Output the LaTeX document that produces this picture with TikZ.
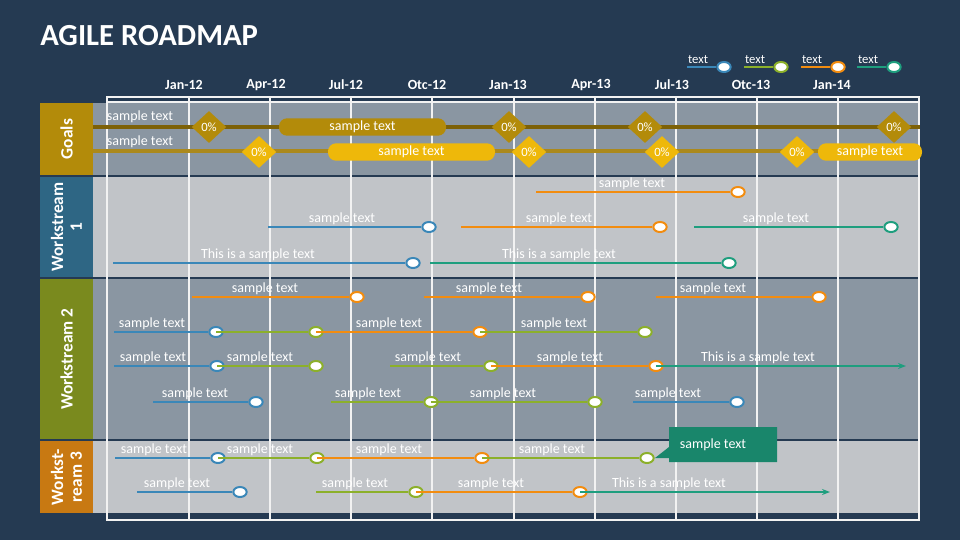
\documentclass[tikz,border=0pt]{standalone}
\usepackage{fontspec}
\setmainfont{Carlito}
\usetikzlibrary{arrows.meta,positioning,shapes.geometric}
\definecolor{bg}{HTML}{253A52}
\definecolor{darkband}{HTML}{8A96A2}
\definecolor{lightband}{HTML}{C1C4C8}
\definecolor{cgoal}{HTML}{B38B0A}
\definecolor{cgoalb}{HTML}{EEB80A}
\definecolor{cws1}{HTML}{2E6684}
\definecolor{cws2}{HTML}{7A8A1E}
\definecolor{cws3}{HTML}{C87912}
\definecolor{cblue}{HTML}{3A87B8}
\definecolor{cgreen}{HTML}{8CB02A}
\definecolor{corange}{HTML}{F28C0F}
\definecolor{cteal}{HTML}{1E9E7E}
\tikzset{%
   dot/.style={ellipse, draw=#1, line width=1.5pt, fill=white, minimum width=10pt, minimum height=7.5pt, inner sep=0pt},
   lbl/.style={text=white, font=\fontsize{10.5}{12}\selectfont, inner sep=0pt},
   dia/.style={diamond, fill=#1, text=white, font=\fontsize{9.5}{10}\selectfont, inner sep=1pt, minimum width=26pt, minimum height=24pt},
   bar/.style={rounded corners=6pt, fill=#1, text=white, font=\fontsize{10.5}{12}\selectfont, minimum height=13pt, inner sep=0pt},
   lane/.style={fill=#1, text=white, font=\bfseries\fontsize{13}{14}\selectfont, align=center, rotate=90},
}
% segment: from x1 to x2 at y, colour, label, label x
\newcommand{\seg}[6]{%
  \coordinate (s) at (#1,#3);
  \node[dot=#4] (e) at (#2,#3) {};
  \draw[#4, line width=1.3pt] (s) -- (e);
  \node[lbl] at (#6,#3-8) {#5};
}
\newcommand{\arr}[6]{%
  \coordinate (s) at (#1,#3);
  \coordinate (e) at (#2,#3);
  \draw[#4, line width=1.3pt, -{Stealth[length=6pt]}] (s) -- (e);
  \node[lbl] at (#6,#3-8) {#5};
}
\begin{document}
\begin{tikzpicture}[x=0.75pt, y=-0.75pt]
   \fill[bg] (0,0) rectangle (960,540);
   \useasboundingbox (0,0) rectangle (960,540);
   \node[anchor=base west, text=white, font=\bfseries\fontsize{23}{26}\selectfont, inner sep=0pt] (title) at (40,45) {AGILE ROADMAP};
   % legend
   \foreach \x/\c in {687/cblue, 744/cgreen, 801/corange, 857/cteal} {
      \node[dot=\c] (l\x) at (\x+37,67) {};
      \draw[\c, line width=1.3pt] (\x,67) -- (l\x);
      \node[lbl, font=\fontsize{9.5}{10}\selectfont] at (\x+11,60) {text};
   }
   % months
   \foreach \x/\m in {184/Jan-12, 266/Apr-12, 346/Jul-12, 427/Otc-12, 508/Jan-13, 591/Apr-13, 672/Jul-13, 751/Otc-13, 832/Jan-14}
      \node[text=white, font=\bfseries\fontsize{10.5}{12}\selectfont] at (\x,85) {\m};
   % bands
   \fill[darkband] (93,103) rectangle (920,175);
   \fill[lightband] (93,177) rectangle (920,277);
   \fill[darkband] (93,279) rectangle (920,439);
   \fill[lightband] (93,441) rectangle (920,513);
   \node[lane=cgoal, minimum width=72pt*0.75/0.75*0.75, minimum height=53*0.75pt] (goals) at (66.5,139) {Goals};
   \node[lane=cws1, minimum width=100*0.75pt, minimum height=53*0.75pt] (ws1) at (66.5,227) {Workstream\\1};
   \node[lane=cws2, minimum width=160*0.75pt, minimum height=53*0.75pt] (ws2) at (66.5,359) {Workstream 2};
   \node[lane=cws3, minimum width=72*0.75pt, minimum height=53*0.75pt] (ws3) at (66.5,477) {Workst-\\ream 3};
   % grid
   \draw[white!90!gray, line width=0.8pt] (107,97) rectangle (919,520);
   \draw[white!90!gray, line width=0.8pt] (107,102) -- (919,102);
   \foreach \x in {189,270,351,432,514,595,676,757,838}
      \draw[white!90!gray, line width=0.8pt] (\x,97) -- (\x,520);
   % goals
   \draw[cgoal!70!black, line width=2.5pt] (93,127) -- (920,127);
   \draw[cgoal!85!gray, line width=2.5pt] (93,151) -- (920,151);
   \node[lbl] at (140,117) {sample text};
   \node[lbl] at (140,142) {sample text};
   \node[bar=cgoal, minimum width=167*0.75pt] (g1) at (362.5,127) {sample text};
   \node[bar=cgoalb, minimum width=167*0.75pt] (g2) at (411.5,152) {sample text};
   \node[bar=cgoalb, minimum width=104*0.75pt] (g3) at (870,152) {sample text};
   \foreach \x in {209,509,645,894} \node[dia=cgoal] at (\x,127) {0\%};
   \foreach \x in {259,529,662,797} \node[dia=cgoalb] at (\x,152) {0\%};
   % workstream 1
   \seg{536}{738}{192}{corange}{sample text}{632}
   \seg{268}{429}{227}{cblue}{sample text}{342}
   \seg{461}{660}{227}{corange}{sample text}{559}
   \seg{694}{891}{227}{cteal}{sample text}{776}
   \seg{113}{413}{263}{cblue}{This is a sample text}{258}
   \seg{430}{729}{263}{cteal}{This is a sample text}{559}
   % workstream 2
   \seg{192}{357}{297}{corange}{sample text}{265}
   \seg{424}{588}{297}{corange}{sample text}{489}
   \seg{656}{819}{297}{corange}{sample text}{713}
   \seg{114}{216}{332}{cblue}{sample text}{152}
   \seg{216}{316}{332}{cgreen}{}{260}
   \seg{316}{480}{332}{corange}{sample text}{389}
   \seg{480}{645}{332}{cgreen}{sample text}{554}
   \seg{114}{217}{366}{cblue}{sample text}{153}
   \seg{217}{316}{366}{cgreen}{sample text}{260}
   \seg{390}{491}{366}{cgreen}{sample text}{428}
   \seg{491}{656}{366}{corange}{sample text}{570}
   \arr{656}{906}{366}{cteal}{This is a sample text}{758}
   \seg{153}{256}{402}{cblue}{sample text}{195}
   \seg{331}{431}{402}{cgreen}{sample text}{368}
   \seg{431}{595}{402}{cgreen}{sample text}{503}
   \seg{633}{737}{402}{cblue}{sample text}{668}
   % workstream 3
   \seg{115}{218}{458}{cblue}{sample text}{154}
   \seg{218}{317}{458}{cgreen}{sample text}{260}
   \seg{317}{482}{458}{corange}{sample text}{389}
   \seg{482}{647}{458}{cgreen}{sample text}{552}
   \fill[cteal!85!black] (669,427) rectangle (777,462) (669,447) -- (669,458) -- (655,458) -- cycle;
   \node[lbl] (call) at (713,445) {sample text};
   \seg{137}{240}{492}{cblue}{sample text}{177}
   \seg{316}{416}{492}{cgreen}{sample text}{355}
   \seg{416}{580}{492}{corange}{sample text}{491}
   \arr{580}{830}{492}{cteal}{This is a sample text}{669}
\end{tikzpicture}
\end{document}
